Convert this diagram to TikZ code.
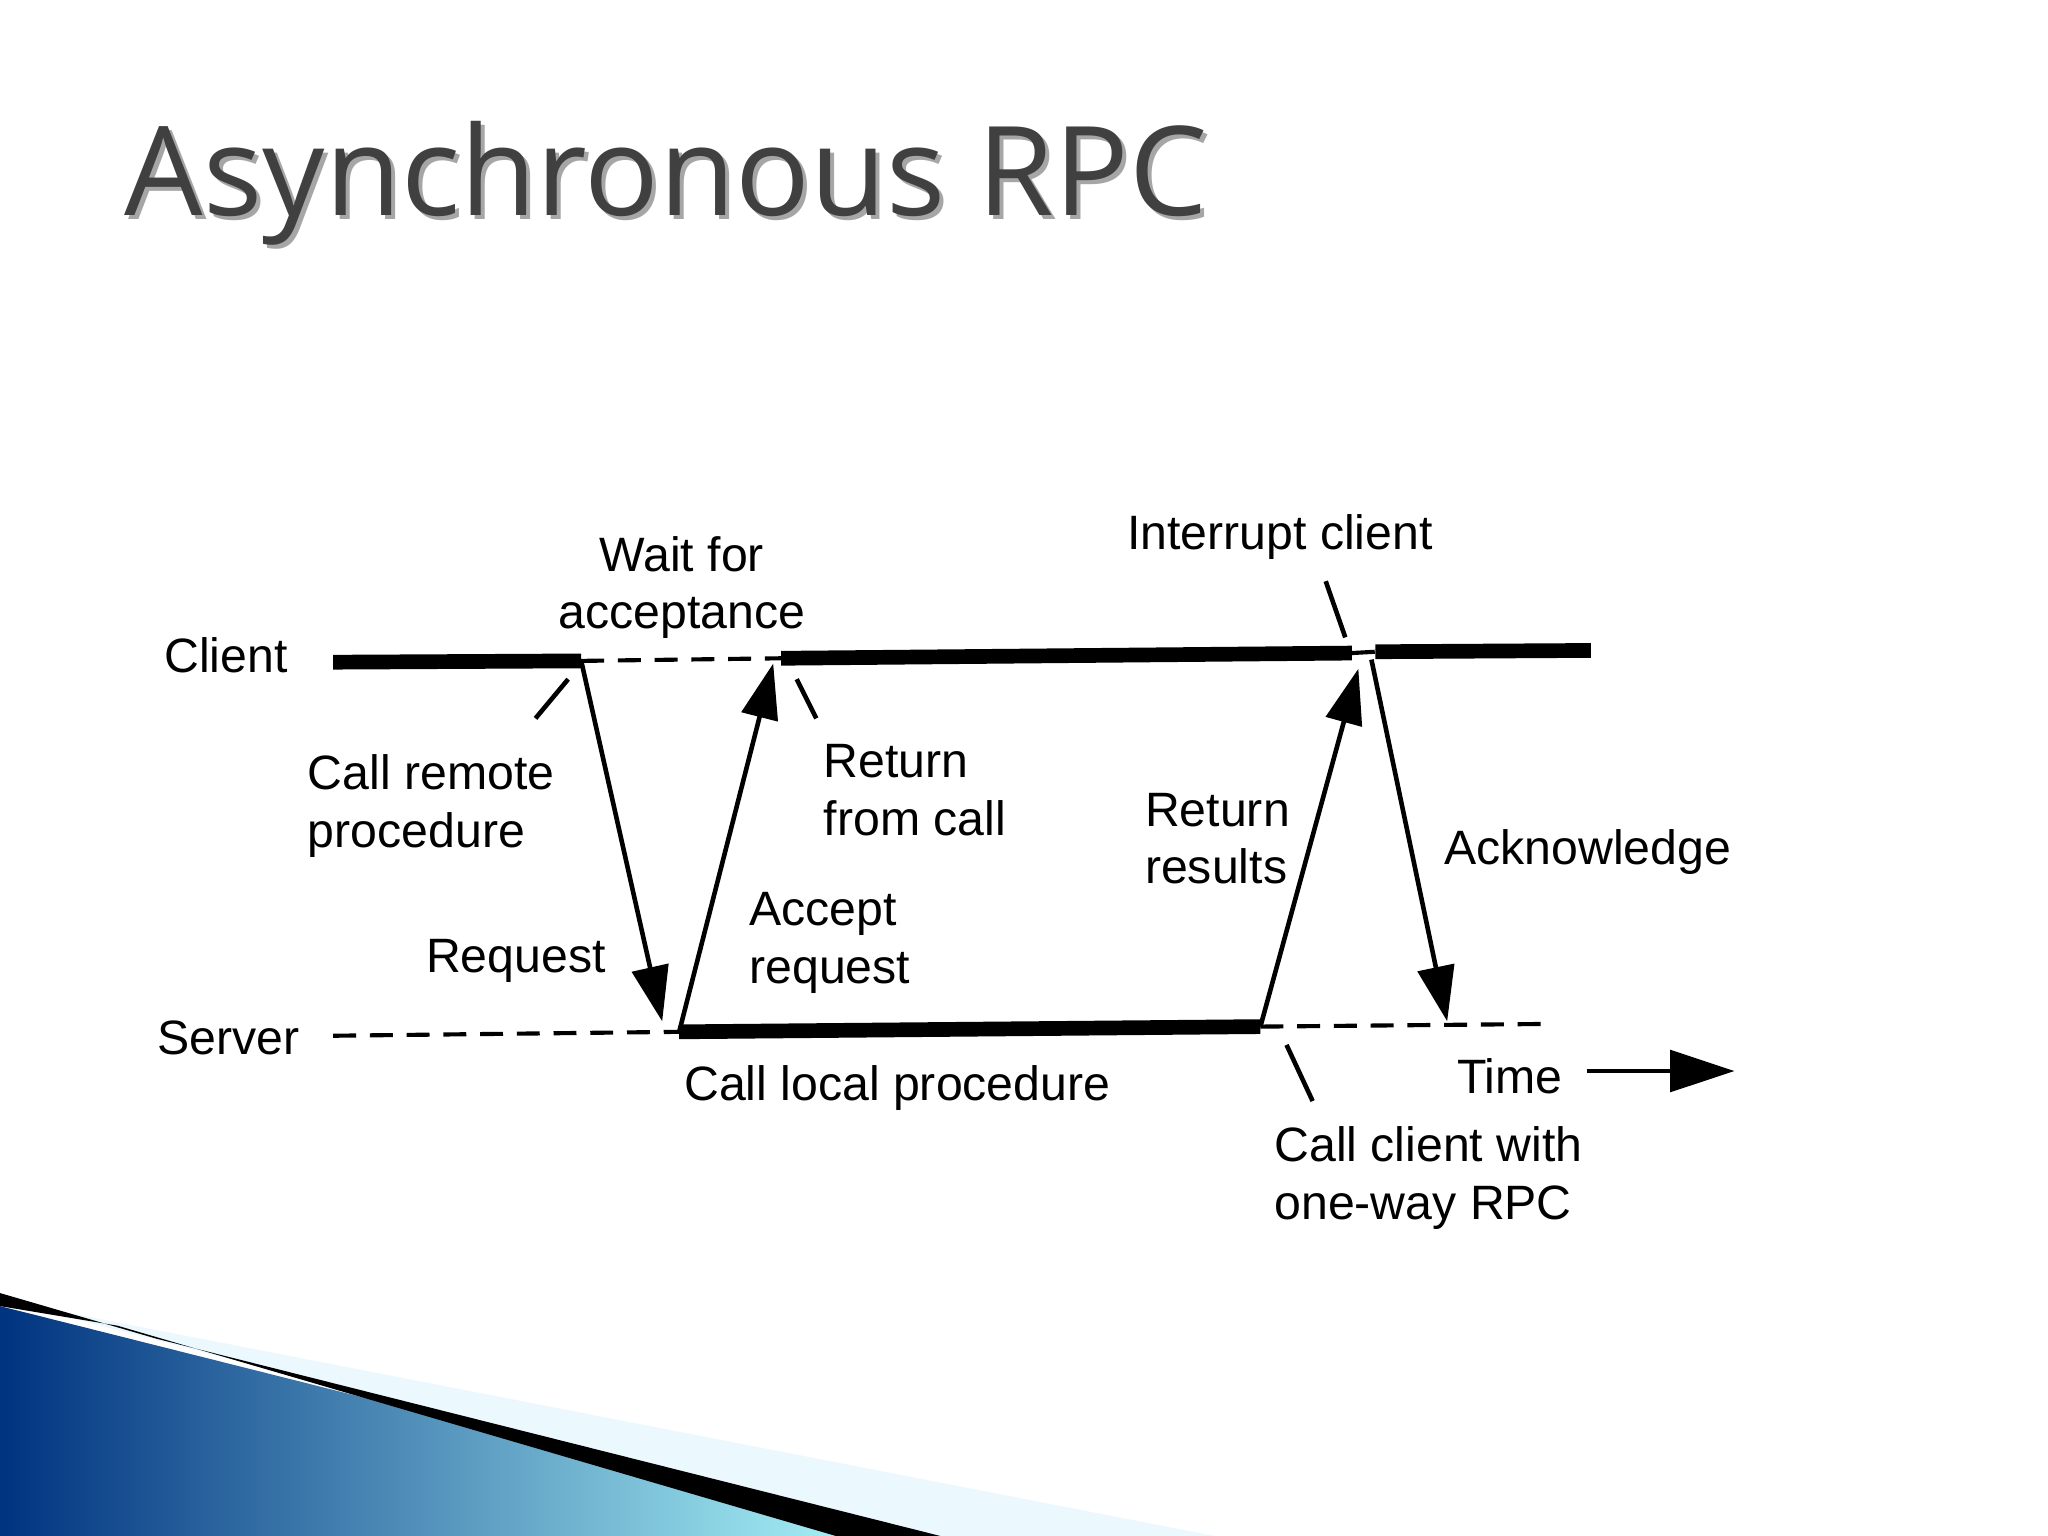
\documentclass[tikz,border=0pt]{standalone}
\usepackage{fontspec}
\setmainfont{Liberation Sans}
\newfontfamily\titlefont{Open Sans}
\usetikzlibrary{arrows.meta}
\begin{document}
\begin{tikzpicture}[x=0.01cm,y=-0.01cm,
  thick line/.style={line width=3.2pt},
  dash line/.style={line width=0.9pt,dash pattern=on 5pt off 3pt},
  msg/.style={line width=1pt,-{Triangle[length=12pt,width=8pt]}},
  tick/.style={line width=1pt},
  lbl/.style={font=\fontsize{10.5}{12.5}\selectfont,inner sep=0pt,align=left},
  lblc/.style={font=\fontsize{10.5}{12.5}\selectfont,inner sep=0pt,align=center}]
\useasboundingbox (0,0) rectangle (1568,1176);
% decoration
\shade[left color=cyan!40!blue!50!black, right color=cyan!30] (0,1000) -- (700,1176) -- (0,1176) -- cycle;
\fill[cyan!8] (0,995) -- (930,1176) -- (700,1176) -- cycle;
\fill[black] (0,990) -- (120,1025) -- (720,1176) -- (640,1176) -- (90,1015) -- (0,1000) -- cycle;
% title
\node[anchor=base west,inner sep=0pt,font=\titlefont\fontsize{27}{30}\selectfont,text=black!35] (shadow) at (98,168) {Asynchronous RPC};
\node[anchor=base west,inner sep=0pt,font=\titlefont\fontsize{27}{30}\selectfont,text=black!75] (title) at (95,165) {Asynchronous RPC};
% coordinates
\coordinate (c0) at (255,507); \coordinate (c1) at (445,506);
\coordinate (c2) at (598,504); \coordinate (c3) at (1035,500);
\coordinate (c4) at (1053,499); \coordinate (c5) at (1218,498);
\coordinate (s0) at (255,793); \coordinate (s1) at (520,790);
\coordinate (s2) at (965,786); \coordinate (s3) at (1180,784);
\coordinate (r1) at (507,782); \coordinate (a1) at (592,508);
\coordinate (a2) at (1040,512); \coordinate (k1) at (1108,782);
\draw[thick line] (c0) -- (c1);
\draw[dash line] (c1) -- (c2);
\draw[thick line] (c2) -- (c3);
\draw[dash line] (c3) -- (c4);
\draw[thick line] (c4) -- (c5);
\draw[dash line] (s0) -- (s1);
\draw[thick line] (s1) -- (s2);
\draw[dash line] (s2) -- (s3);
\draw[msg] (c1) -- (r1);
\draw[msg] (s1) -- (a1);
\draw[msg] (s2) -- (a2);
\draw[msg] (1050,505) -- (k1);
% ticks
\coordinate (t1a) at (435,520); \coordinate (t1b) at (410,550);
\coordinate (t2a) at (610,520); \coordinate (t2b) at (625,550);
\coordinate (t3a) at (1015,445); \coordinate (t3b) at (1030,488);
\coordinate (t4a) at (985,800); \coordinate (t4b) at (1005,843);
\draw[tick] (t1a) -- (t1b);
\draw[tick] (t2a) -- (t2b);
\draw[tick] (t3a) -- (t3b);
\draw[tick] (t4a) -- (t4b);
\coordinate (ta) at (1215,820); \coordinate (tb) at (1328,820);
\draw[line width=1pt,-{Triangle[length=14pt,width=9pt]}] (ta) -- (tb);
% labels
\node[lblc] (client) at (173,502) {Client};
\node[lblc] (server) at (175,795) {Server};
\node[lblc] (wait) at (522,450) {Wait for\\acceptance};
\node[lblc] (intr) at (980,411) {Interrupt client};
\node[lbl,anchor=west] (crp) at (235,617) {Call remote\\procedure};
\node[lbl,anchor=west] (rfc) at (630,605) {Return\\from call};
\node[lbl,anchor=west] (rr) at (876,642) {Return\\results};
\node[lbl,anchor=west] (ack) at (1105,652) {Acknowledge};
\node[lbl,anchor=west] (acc) at (573,722) {Accept\\request};
\node[lblc] (req) at (395,736) {Request};
\node[lblc] (clp) at (687,833) {Call local procedure};
\node[lblc] (time) at (1156,824) {Time};
\node[lbl,anchor=west] (cc) at (975,902) {Call client with\\one-way RPC};
\end{tikzpicture}
\end{document}
